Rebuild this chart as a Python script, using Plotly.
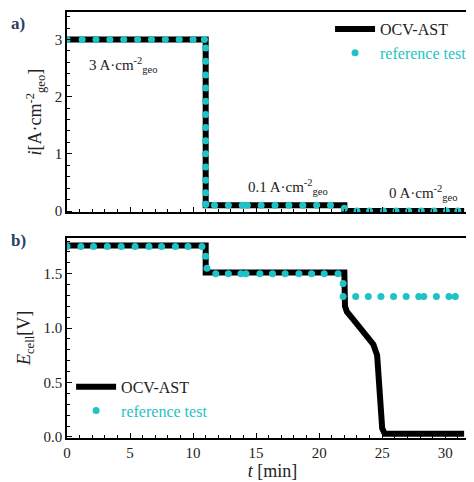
import plotly.graph_objects as go
from plotly.subplots import make_subplots

# current, OCV-AST
t_i_ocv = [0, 11, 11, 22, 22, 31.5]
i_ocv = [3, 3, 0.1, 0.1, 0, 0]
# current, reference test (sampled dots)
t_i_ref = [0, 1.2, 2.3, 3.4, 4.5, 5.6, 6.7, 7.8, 8.9, 10, 10.9, 11, 11, 11, 11, 11, 11, 11, 11, 11, 11, 11, 11, 11, 11,
           11.7, 12.8, 13.9, 14.3, 15.4, 16.5, 17.6, 18.7, 19.8, 20.9, 22.0,
           23.0, 24.0, 25.1, 26.1, 27.1, 28.1, 29.1, 30.1, 31.0]
i_ref = [3, 3, 3, 3, 3, 3, 3, 3, 3, 3, 3, 2.85, 2.62, 2.38, 2.15, 1.92, 1.69, 1.46, 1.23, 1.0, 0.77, 0.54, 0.32, 0.12, 0.12,
         0.1, 0.1, 0.1, 0.1, 0.1, 0.1, 0.1, 0.1, 0.1, 0.1, 0.05,
         0, 0, 0, 0, 0, 0, 0, 0, 0]
# cell voltage, OCV-AST
t_e_ocv = [0, 11, 11, 22, 22.05, 22.2, 22.7, 23.3, 23.9, 24.3, 24.6, 24.7, 24.8, 24.9, 25.0, 25.2, 26, 31.5]
e_ocv = [1.76, 1.76, 1.51, 1.51, 1.2, 1.15, 1.08, 1.0, 0.92, 0.85, 0.75, 0.6, 0.4, 0.2, 0.08, 0.03, 0.03, 0.03]
# cell voltage, reference test
t_e_ref = [0, 1.1, 2.1, 3.2, 4.3, 5.4, 6.5, 7.5, 8.6, 9.6, 10.7, 11, 11.1, 11.8, 12.8, 13.8, 14.2, 15.3, 16.3, 17.3,
           18.4, 19.4, 20.4, 21.5, 21.9, 21.9, 22.9, 23.9, 24.9, 25.9, 26.9, 27.9, 28.3, 29.3, 30.3, 30.8]
e_ref = [1.75, 1.75, 1.75, 1.75, 1.75, 1.75, 1.75, 1.75, 1.75, 1.75, 1.75, 1.66, 1.55, 1.5, 1.5, 1.5, 1.5, 1.5, 1.5, 1.5,
         1.5, 1.5, 1.5, 1.5, 1.41, 1.29, 1.29, 1.29, 1.29, 1.29, 1.29, 1.29, 1.29, 1.29, 1.29, 1.29]

BLK = "black"
CY = "#1fc3c6"
F = "Liberation Serif, Times New Roman, serif"
REFNAME = "<span style='color:#1fc3c6'>reference test</span>"

fig = make_subplots(rows=2, cols=1, vertical_spacing=0.06)
fig.add_trace(go.Scatter(x=t_i_ocv, y=i_ocv, mode="lines", line=dict(color=BLK, width=6), name="OCV-AST",
                         legend="legend"), 1, 1)
fig.add_trace(go.Scatter(x=t_i_ref, y=i_ref, mode="markers", marker=dict(color=CY, size=7), name=REFNAME,
                         legend="legend"), 1, 1)
fig.add_trace(go.Scatter(x=t_e_ocv, y=e_ocv, mode="lines", line=dict(color=BLK, width=6), name="OCV-AST",
                         legend="legend2"), 2, 1)
fig.add_trace(go.Scatter(x=t_e_ref, y=e_ref, mode="markers", marker=dict(color=CY, size=7), name=REFNAME,
                         legend="legend2"), 2, 1)

ax = dict(showline=True, linecolor="black", linewidth=1.5, mirror=True, ticks="inside", ticklen=5,
          tickcolor="black", showgrid=False, zeroline=False, tickfont=dict(family=F, size=15, color="#222"),
          minor=dict(ticks="inside", ticklen=3, tickcolor="black"))
fig.update_xaxes(**ax, range=[0, 32.6], dtick=5)
fig.update_xaxes(showticklabels=False, row=1, col=1)
fig.update_xaxes(title=dict(text="<i>t</i> [min]", font=dict(family=F, size=18, color="#222"), standoff=0), row=2, col=1)
fig.update_yaxes(**ax)
fig.update_yaxes(range=[-0.02, 3.48], dtick=1, row=1, col=1,
                 title=dict(text="<i>i</i>[A·cm<sup>-2</sup><sub>geo</sub>]", font=dict(family=F, size=18, color="#222"), standoff=8))
fig.update_yaxes(range=[-0.01, 1.83], dtick=0.5, tickformat=".1f", row=2, col=1,
                 title=dict(text="<i>E</i><sub>cell</sub>[V]", font=dict(family=F, size=18, color="#222"), standoff=8))

lg = dict(font=dict(family=F, size=16, color="#222"), bgcolor="rgba(0,0,0,0)", tracegroupgap=0, itemwidth=40)
fig.update_layout(
    width=474, height=482, margin=dict(l=59, r=2, t=3, b=52),
    plot_bgcolor="white", paper_bgcolor="white",
    legend=dict(**lg, x=0.64, y=1.0, xanchor="left", yanchor="top"),
    legend2=dict(**lg, x=0.01, y=0.16, xanchor="left", yanchor="top"),
)
annos = [("3 A·cm<sup>-2</sup><sub>geo</sub>", 4.5, 2.55), ("0.1 A·cm<sup>-2</sup><sub>geo</sub>", 17.5, 0.42),
         ("0 A·cm<sup>-2</sup><sub>geo</sub>", 28.3, 0.32)]
for txt, x, y in annos:
    fig.add_annotation(text=txt, x=x, y=y, xref="x", yref="y", showarrow=False, font=dict(family=F, size=15, color="#222"))
fig.add_annotation(text="<b>a)</b>", x=0, y=1.0, xref="paper", yref="paper", xshift=-58, showarrow=False,
                   xanchor="left", yanchor="top", font=dict(family=F, size=17))
fig.add_annotation(text="<b>b)</b>", x=0, y=0.49, xref="paper", yref="paper", xshift=-58, showarrow=False,
                   xanchor="left", yanchor="top", font=dict(family=F, size=17))
fig.write_html("out.html")
